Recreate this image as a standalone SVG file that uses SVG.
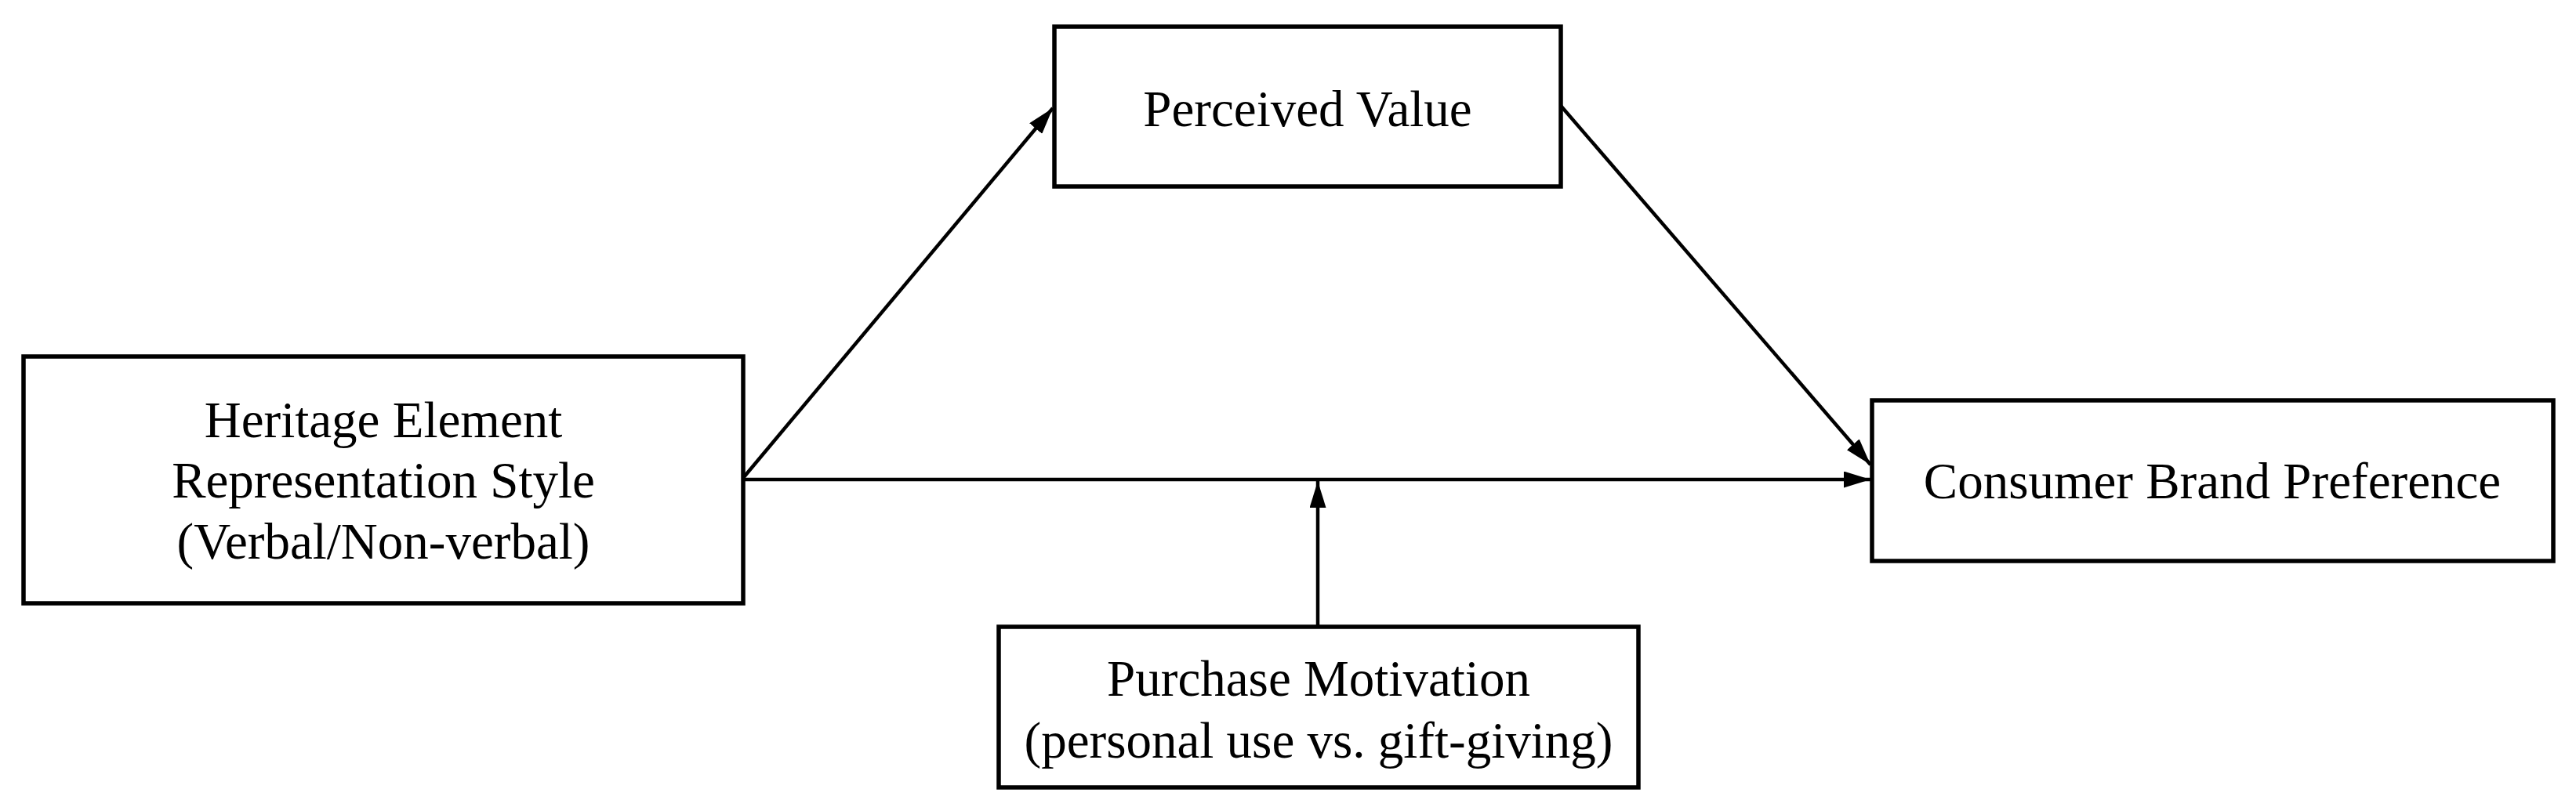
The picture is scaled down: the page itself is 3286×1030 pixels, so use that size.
<svg xmlns="http://www.w3.org/2000/svg" width="3286" height="1030" viewBox="0 0 3286 1030">
<defs>
<style>
.box{fill:#fff;stroke:#000;stroke-width:5.5}
.lbl{font-family:"Liberation Serif","Times New Roman",serif;font-size:65px;fill:#000;text-anchor:middle}
.con{stroke:#000;stroke-width:4.5;fill:none}
</style>
<marker id="arr" viewBox="0 0 34 21" refX="34" refY="10.5" markerWidth="34" markerHeight="21" markerUnits="userSpaceOnUse" orient="auto">
<path d="M0,0 L34,10.5 L0,21 Z" fill="#000"/>
</marker>
</defs>
<rect width="3286" height="1030" fill="#fff"/>
<g id="connectors">
<line class="con" x1="948" y1="610" x2="1343" y2="138" marker-end="url(#arr)"/>
<line class="con" x1="1991" y1="135" x2="2386" y2="593" marker-end="url(#arr)"/>
<line class="con" x1="948" y1="612" x2="2386" y2="612" marker-end="url(#arr)"/>
<line class="con" x1="1681" y1="800" x2="1681" y2="614" marker-end="url(#arr)"/>
</g>
<g id="heritage">
<rect class="box" x="30" y="455" width="918" height="315"/>
<text class="lbl" x="489" y="558">Heritage Element</text>
<text class="lbl" x="489" y="635">Representation Style</text>
<text class="lbl" x="489" y="713">(Verbal/Non-verbal)</text>
</g>
<g id="perceived">
<rect class="box" x="1345" y="34" width="646" height="204"/>
<text class="lbl" x="1668" y="161">Perceived Value</text>
</g>
<g id="preference">
<rect class="box" x="2388" y="511" width="869" height="205"/>
<text class="lbl" x="2822" y="636">Consumer Brand Preference</text>
</g>
<g id="motivation">
<rect class="box" x="1274" y="800" width="816" height="205"/>
<text class="lbl" x="1682" y="888">Purchase Motivation</text>
<text class="lbl" x="1682" y="967">(personal use vs. gift-giving)</text>
</g>
</svg>
